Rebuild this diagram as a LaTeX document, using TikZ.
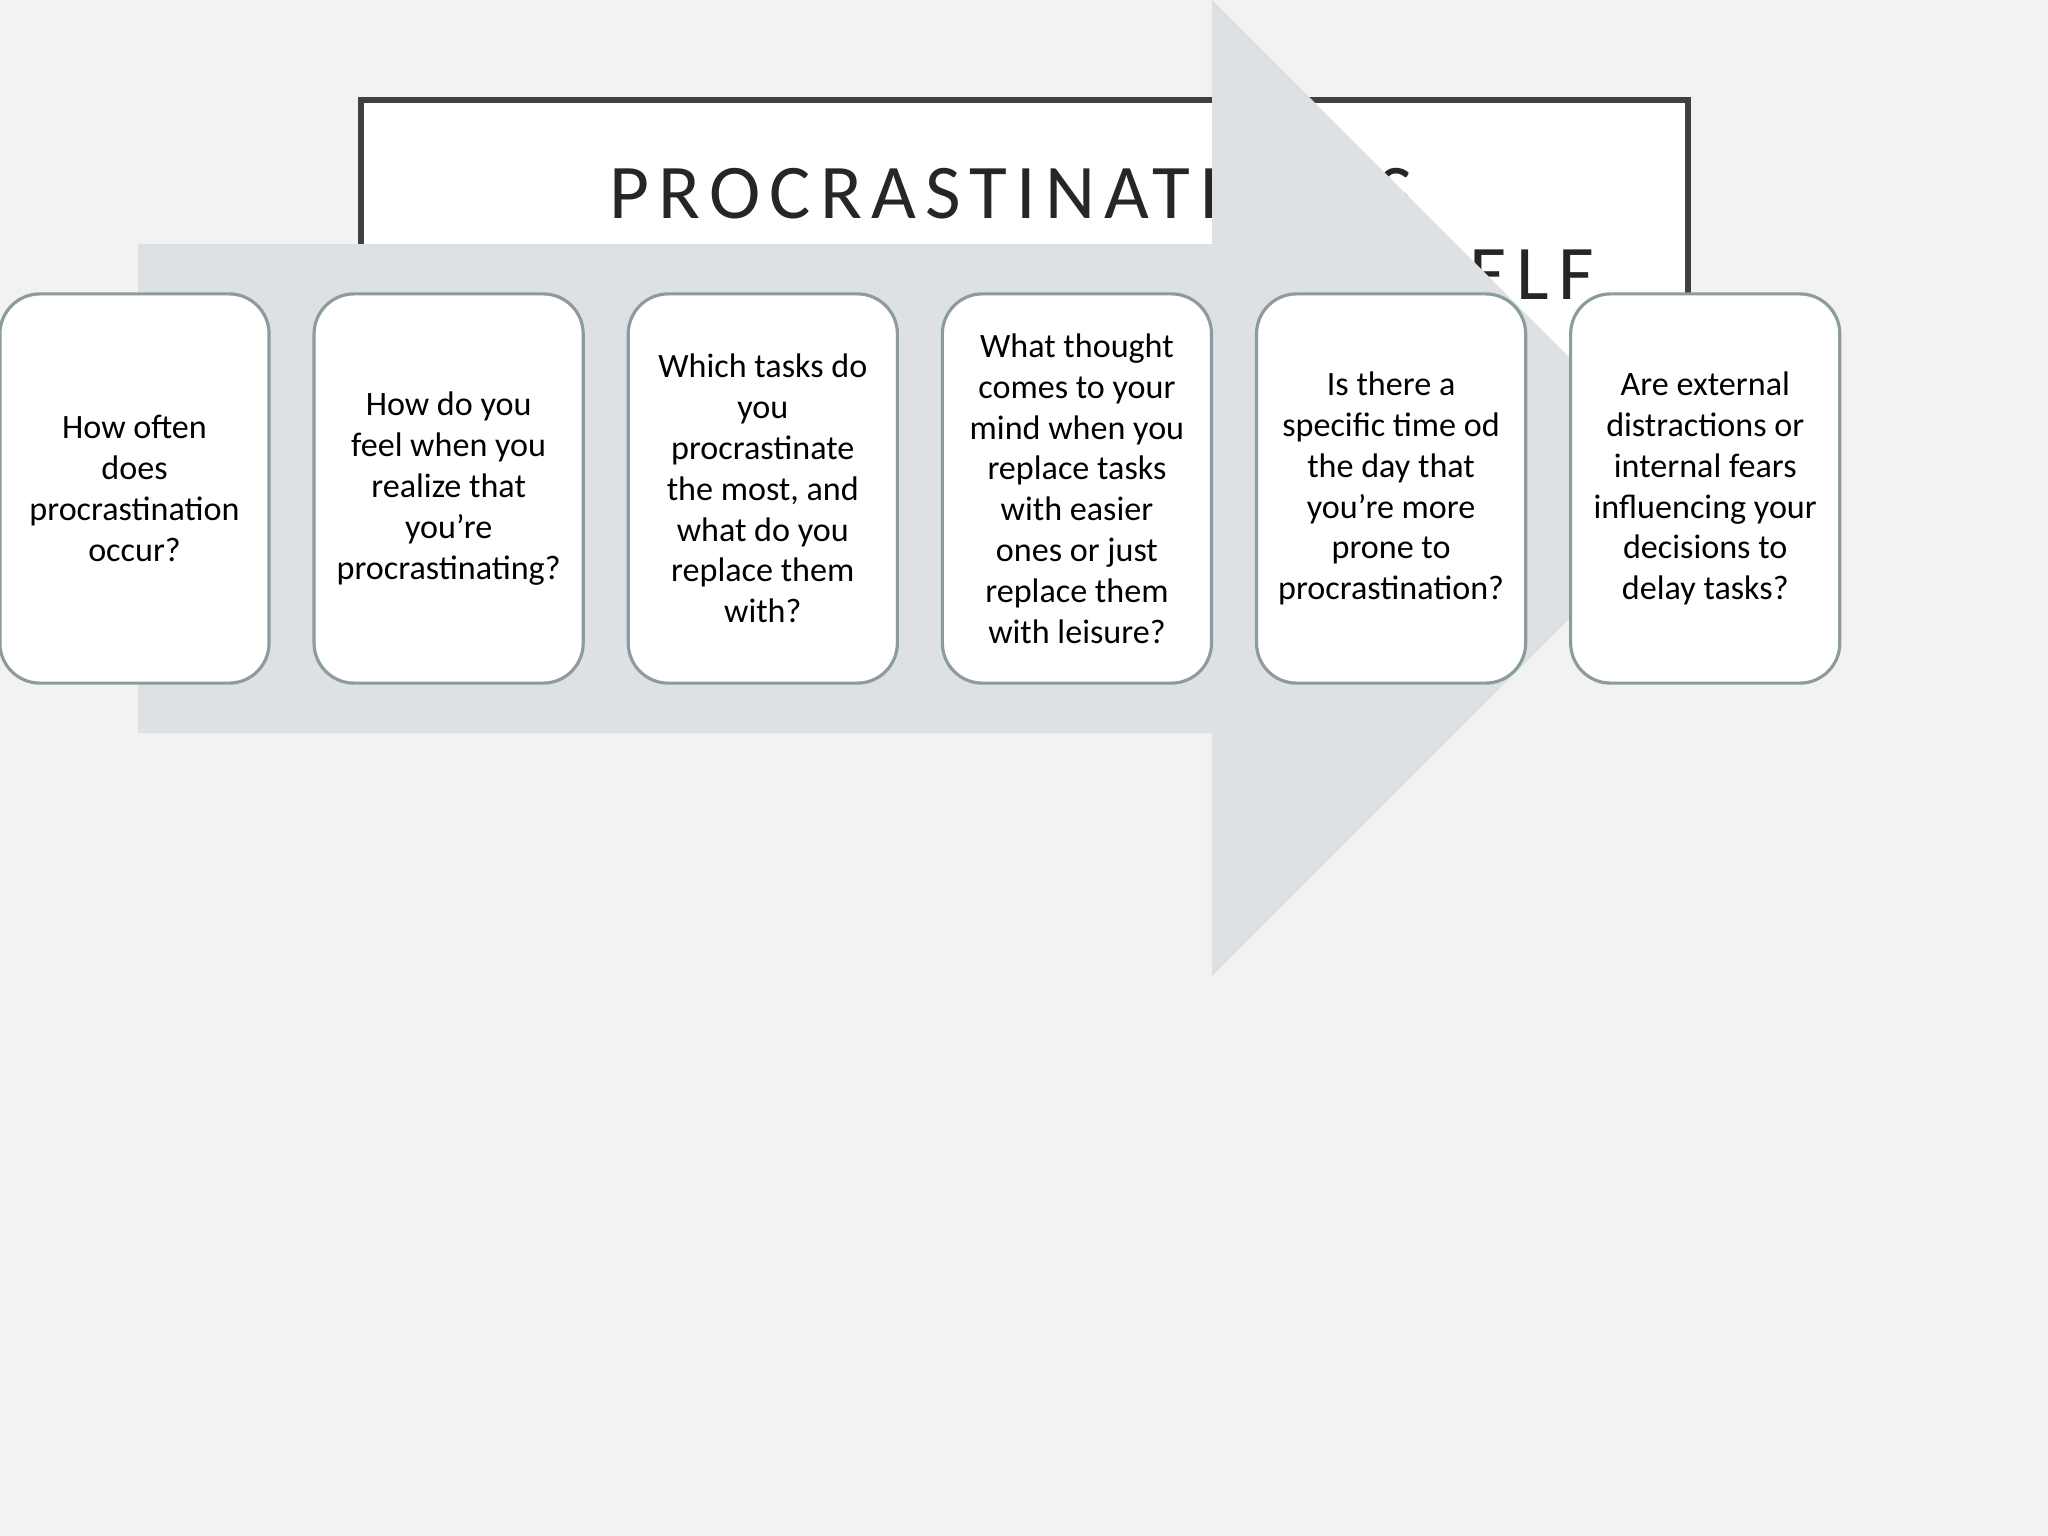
\documentclass[tikz,border=0pt]{standalone}
\usepackage{fontspec}
\setmainfont{Carlito}
\usetikzlibrary{positioning}
\definecolor{bgcol}{RGB}{242,242,242}
\definecolor{arrowcol}{RGB}{222,225,228}
\definecolor{cardline}{RGB}{140,156,158}
\definecolor{framecol}{RGB}{64,64,64}
\definecolor{titlecol}{RGB}{38,38,38}

\begin{document}
\begin{tikzpicture}[x=0.01cm, y=-0.01cm,
    card/.style={draw=cardline, line width=0.9pt, fill=white,
      rounded corners=0.4cm, minimum width=2.69cm, minimum height=3.89cm,
      inner sep=0pt, align=center, font=\fontsize{9.7}{11.6}\selectfont},
    titletext/.style={text=titlecol, anchor=base,
      font=\fontsize{22}{22}\selectfont\addfontfeature{LetterSpace=12}}]
  \fill[bgcol] (0,0) rectangle (2048,1536);
  \useasboundingbox (0,0) rectangle (2048,1536);

  % title frame
  \draw[framecol, line width=1.8pt, fill=white] (361,100) rectangle (1688,420);
  \node[titletext] (title1) at (1011,218) {PROCRASTINATION’S};
  \node[titletext] (title2) at (1024,299) {QUESTIONS TO ASK YOURSELF};

  % big arrow
  \fill[arrowcol] (138,244) -- (1212,244) -- (1212,0) -- (1700,488)
    -- (1212,976) -- (1212,733) -- (138,733) -- cycle;

  \node[card] (q1) at (134.5,488.5) {How often\\does\\procrastination\\occur?};
  \node[card, right=0.418cm of q1] (q2)
    {How do you\\feel when you\\realize that\\you’re\\procrastinating?};
  \node[card, right=0.418cm of q2] (q3)
    {Which tasks do\\you\\procrastinate\\the most, and\\what do you\\replace them\\with?};
  \node[card, right=0.418cm of q3] (q4)
    {What thought\\comes to your\\mind when you\\replace tasks\\with easier\\ones or just\\replace them\\with leisure?};
  \node[card, right=0.418cm of q4] (q5)
    {Is there a\\specific time od\\the day that\\you’re more\\prone to\\procrastination?};
  \node[card, right=0.418cm of q5] (q6)
    {Are external\\distractions or\\internal fears\\influencing your\\decisions to\\delay tasks?};
\end{tikzpicture}
\end{document}
